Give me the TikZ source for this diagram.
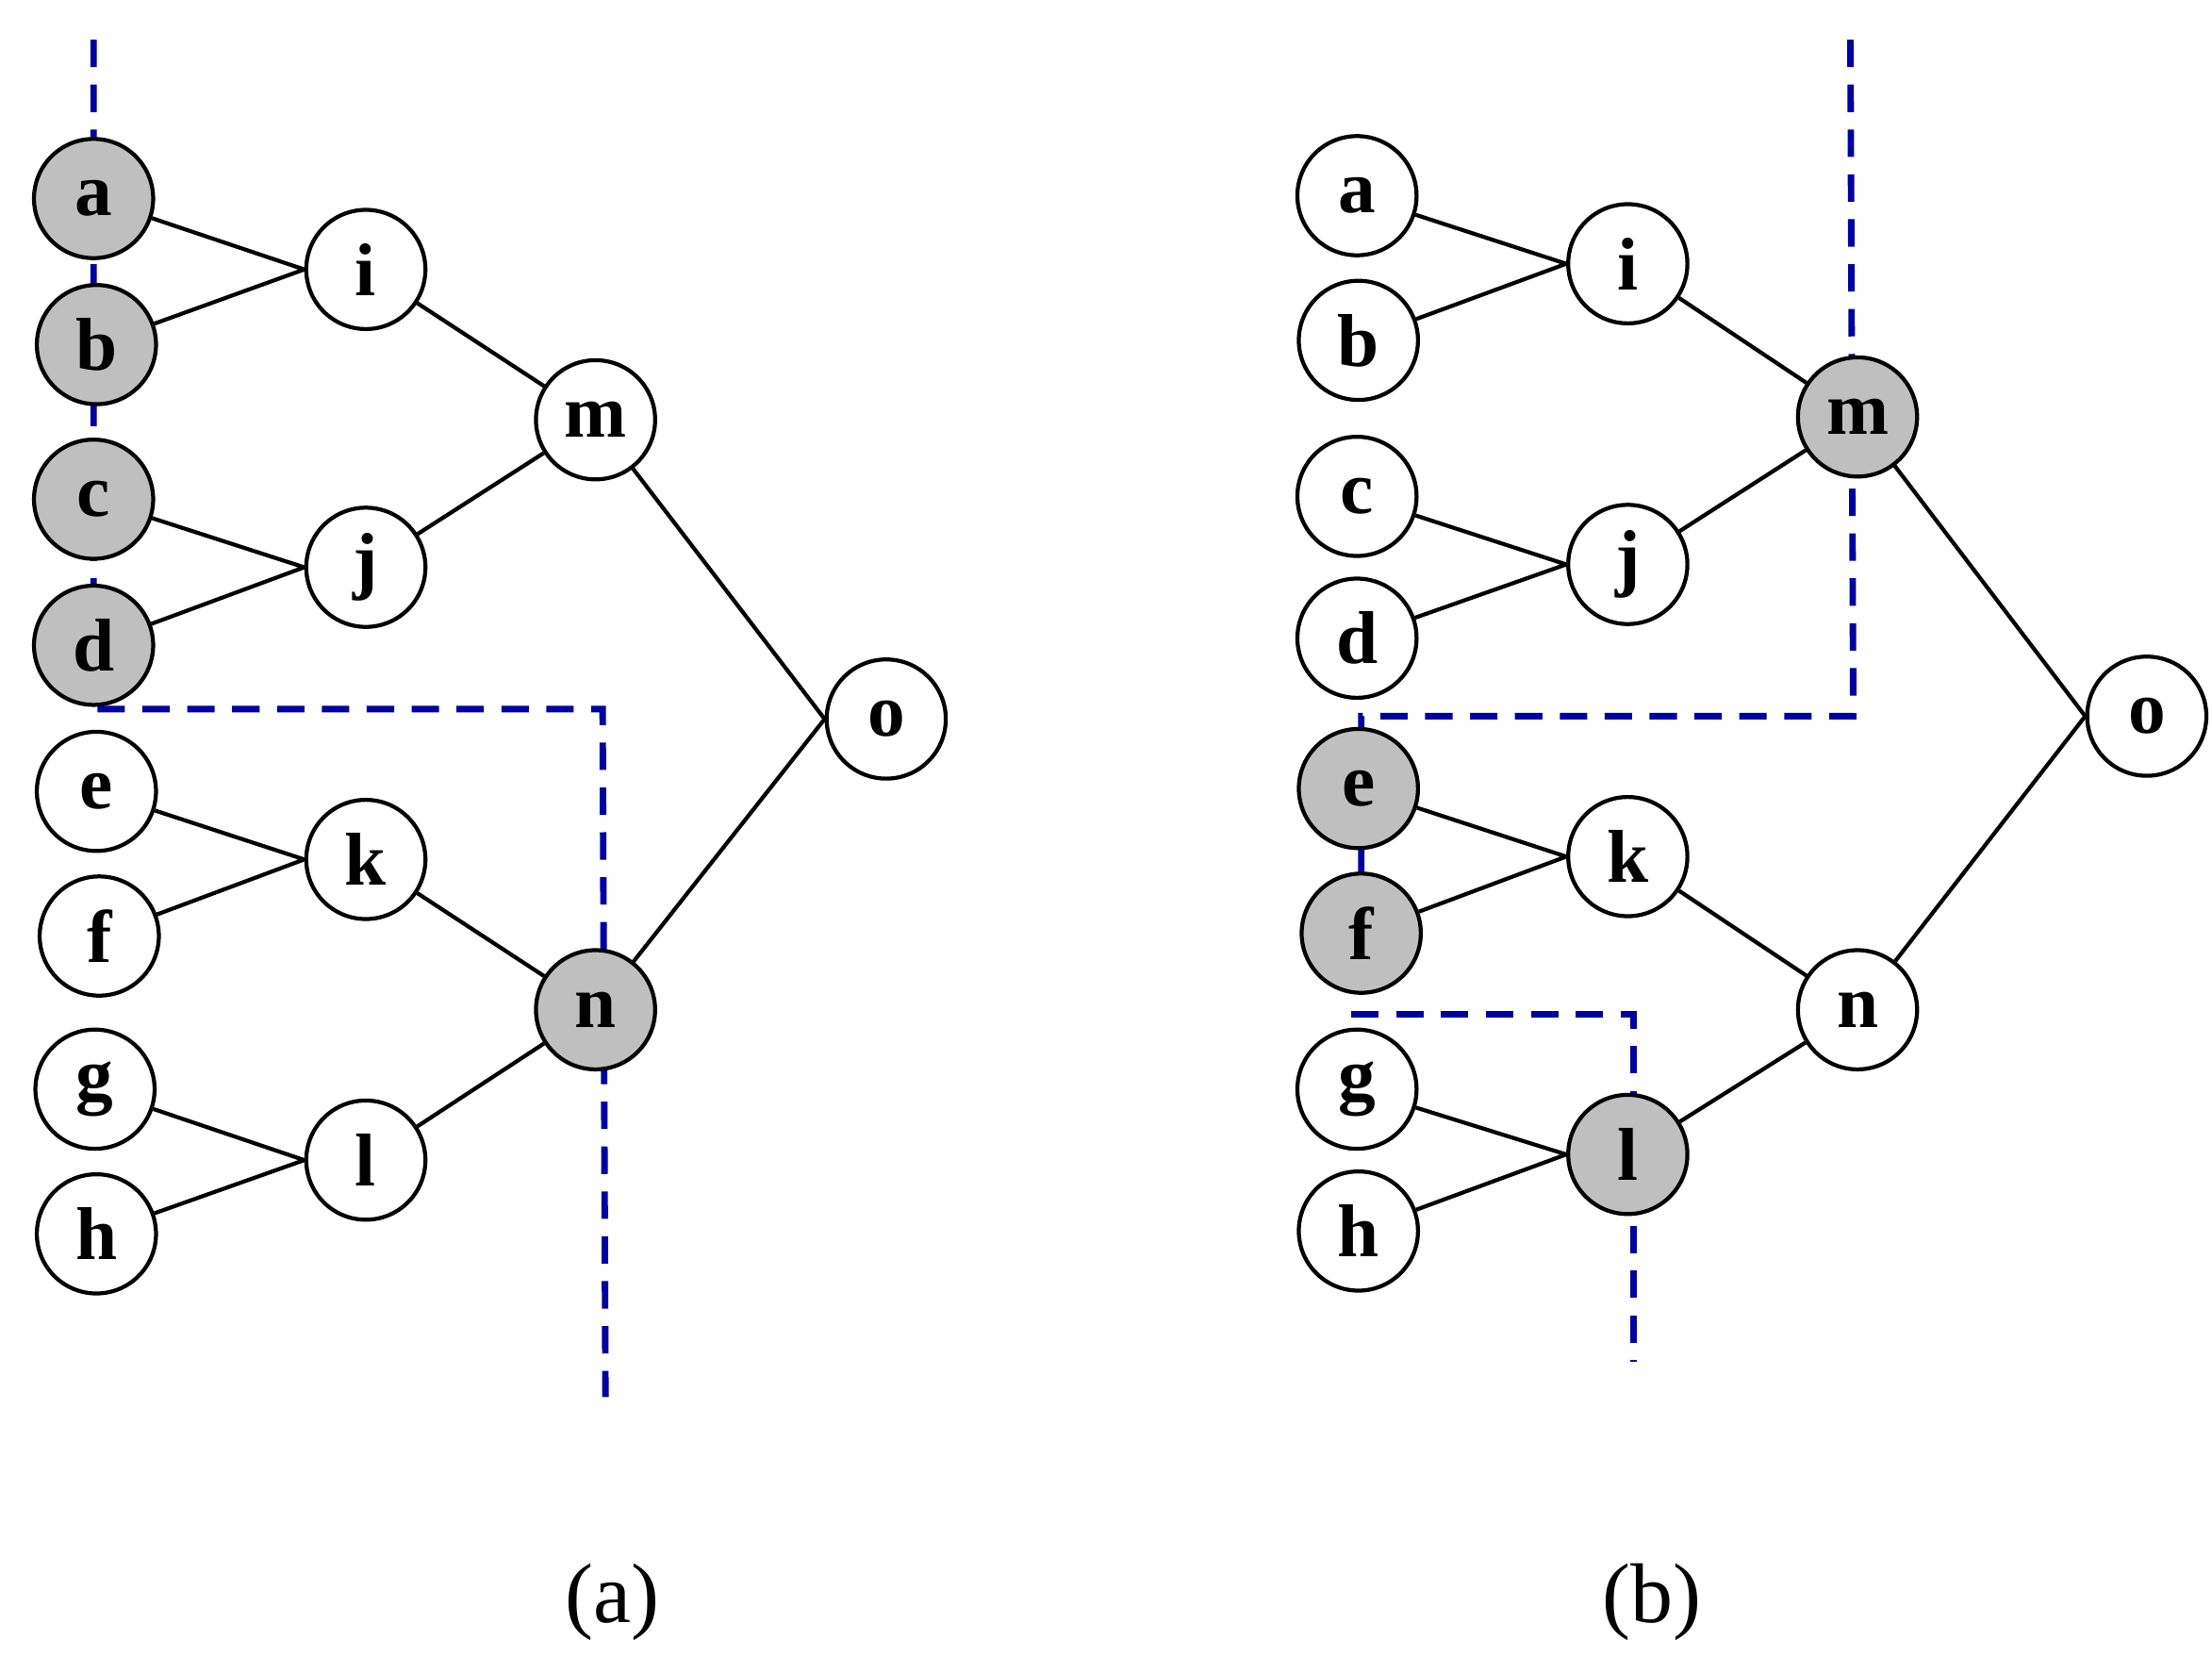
\documentclass[tikz,border=0pt]{standalone}
\usepackage{fontspec}
\setmainfont{Liberation Serif}
\begin{document}
\begin{tikzpicture}[x=0.01cm,y=-0.01cm,
  nd/.style={circle,draw,line width=0.8pt,fill=white,minimum size=0.84cm,inner sep=0pt,font=\fontsize{15}{15}\selectfont\bfseries},
  sel/.style={nd,fill=black!25},
  ed/.style={line width=0.8pt},
  cut/.style={draw={rgb,255:red,0;green,0;blue,160},line width=1.3pt,dash pattern=on 5.5pt off 3.5pt}]
\useasboundingbox (0,0) rectangle (1560,1168);
% cut lines (behind nodes)
\draw[cut] (66,28) -- (66,500) -- (425,500) -- (427,985);
\draw[cut] (1305,28) -- (1307,505) -- (960,505) -- (960,700);
\draw[cut] (953,715) -- (1152,715) -- (1152,960);
% tree (a)
\node[sel] (aa) at (66,140) {a};
\node[sel] (ab) at (68,243) {b};
\node[sel] (ac) at (66,352) {c};
\node[sel] (ad) at (66,455) {d};
\node[nd] (ae) at (68,558) {e};
\node[nd] (af) at (70,660) {f};
\node[nd] (ag) at (67,768) {g};
\node[nd] (ah) at (68,870) {h};
\node[nd] (ai) at (258,190) {i};
\node[nd] (aj) at (258,400) {j};
\node[nd] (ak) at (258,606) {k};
\node[nd] (al) at (258,818) {l};
\node[nd] (am) at (420,296) {m};
\node[sel] (an) at (420,712) {n};
\node[nd] (ao) at (625,507) {o};
% tree (b)
\node[nd] (ba) at (957,138) {a};
\node[nd] (bb) at (958,240) {b};
\node[nd] (bc) at (957,350) {c};
\node[nd] (bd) at (957,450) {d};
\node[sel] (be) at (958,556) {e};
\node[sel] (bf) at (960,658) {f};
\node[nd] (bg) at (957,768) {g};
\node[nd] (bh) at (958,868) {h};
\node[nd] (bi) at (1148,186) {i};
\node[nd] (bj) at (1148,398) {j};
\node[nd] (bk) at (1148,604) {k};
\node[sel] (bl) at (1148,814) {l};
\node[sel] (bm) at (1310,294) {m};
\node[nd] (bn) at (1310,712) {n};
\node[nd] (bo) at (1514,505) {o};
\foreach \t in {a,b}{
  \draw[ed] (\t a) -- (\t i.west) (\t b) -- (\t i.west);
  \draw[ed] (\t c) -- (\t j.west) (\t d) -- (\t j.west);
  \draw[ed] (\t e) -- (\t k.west) (\t f) -- (\t k.west);
  \draw[ed] (\t g) -- (\t l.west) (\t h) -- (\t l.west);
  \draw[ed] (\t i) -- (\t m) (\t j) -- (\t m);
  \draw[ed] (\t k) -- (\t n) (\t l) -- (\t n);
  \draw[ed] (\t m) -- (\t o.west) (\t n) -- (\t o.west);
}
\node[font=\fontsize{17}{17}\selectfont] (capa) at (432,1130) {(a)};
\node[font=\fontsize{17}{17}\selectfont] (capb) at (1165,1130) {(b)};
\end{tikzpicture}
\end{document}
